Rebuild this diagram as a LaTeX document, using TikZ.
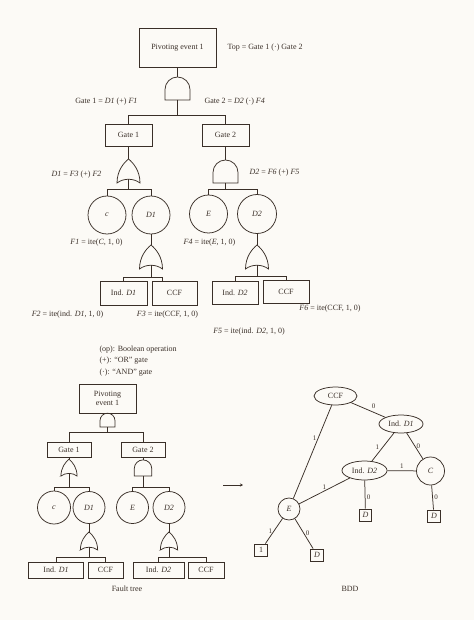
\documentclass[tikz,border=0pt]{standalone}
\usepackage{fontspec}
\setmainfont{Liberation Serif}
\usetikzlibrary{arrows.meta,shapes.geometric}
\definecolor{ink}{RGB}{58,47,40}
\definecolor{paper}{RGB}{252,250,246}

\tikzset{
  wire/.style={draw=ink, line width=0.75pt},
  andgate/.pic={
    \draw[wire] (-12.5pt,0pt) -- (-12.5pt,10.5pt) arc[start angle=180, end angle=0, radius=12.5pt] -- (12.5pt,0pt) -- cycle;
    \coordinate (-in) at (0pt,0pt);
    \coordinate (-out) at (0pt,23pt);
  },
  orgate/.pic={
    \draw[wire] (-11.5pt,0pt) .. controls (-11.5pt,12pt) and (-5pt,20pt) .. (0pt,24pt)
      .. controls (5pt,20pt) and (11.5pt,12pt) .. (11.5pt,0pt)
      .. controls (5pt,5pt) and (-5pt,5pt) .. cycle;
    \coordinate (-in) at (0pt,3.75pt);
    \coordinate (-out) at (0pt,24pt);
  },
}

\begin{document}
\begin{tikzpicture}[x=1pt, y=-1pt,
    every node/.style={text=ink, font=\fontsize{8}{9.5}\selectfont},
    box/.style={draw=ink, line width=0.75pt, rectangle, inner sep=0pt},
    event/.style={draw=ink, line width=0.75pt, circle, inner sep=0pt},
    bddnode/.style={draw=ink, line width=0.75pt, ellipse, inner sep=0pt, minimum width=44pt, minimum height=18pt},
    leaf/.style={draw=ink, line width=0.75pt, rectangle, inner sep=0pt, minimum width=12.5pt, minimum height=12pt},
    branch/.style={font=\fontsize{7}{8}\selectfont, inner sep=1.5pt}]

    \fill[paper] (0,0) rectangle (474,620);

    % Upper fault tree
    \node[box, minimum width=77pt, minimum height=39pt] (top) at (177.5,47.5) {Pivoting event 1};
    \node[anchor=west] (topeq) at (224,48) {Top = Gate 1 (·) Gate 2};
    \pic (g0) at (177.5,100) {andgate};
    \node[anchor=east] (eqg1) at (141,102) {Gate 1 = \textit{D1} (+) \textit{F1}};
    \node[anchor=west] (eqg2) at (201,102) {Gate 2 = \textit{D2} (·) \textit{F4}};
    \node[box, minimum width=47pt, minimum height=22pt] (gate1) at (128.5,135) {Gate 1};
    \node[box, minimum width=47pt, minimum height=22pt] (gate2) at (225.5,135) {Gate 2};
    \draw[wire] (top) -- (g0-out);
    \draw[wire] (g0-in) -- ++(0,15) -| (gate1.north);
    \draw[wire] (g0-in) -- ++(0,15) -| (gate2.north);

    % Gate 1 branch
    \pic (g1) at (128.5,183) {orgate};
    \node[anchor=east] (eqd1) at (105,175) {\textit{D1} = \textit{F3} (+) \textit{F2}};
    \node[event, minimum size=38pt] (c1) at (107,215) {\textit{c}};
    \node[event, minimum size=38pt] (d1) at (151,215) {\textit{D1}};
    \node (f1) at (96.5,243) {\textit{F1} = ite(\textit{C}, 1, 0)};
    \draw[wire] (gate1) -- (g1-out);
    \draw[wire] (g1-in) -- ++(0,10) -| (c1.north);
    \draw[wire] (g1-in) -- ++(0,10) -| (d1.north);
    \pic (g2) at (151,269) {orgate};
    \node[box, minimum width=47pt, minimum height=24pt] (ind1) at (123.5,293) {Ind. \textit{D1}};
    \node[box, minimum width=45pt, minimum height=24pt] (ccf1) at (174.5,293) {CCF};
    \node (f2) at (67.5,315) {\textit{F2} = ite(ind. \textit{D1}, 1, 0)};
    \node (f3) at (167.5,315) {\textit{F3} = ite(CCF, 1, 0)};
    \draw[wire] (d1) -- (g2-out);
    \draw[wire] (g2-in) -- ++(0,12) -| (ind1.north);
    \draw[wire] (g2-in) -- ++(0,12) -| ([xshift=-12pt]ccf1.north);

    % Gate 2 branch
    \pic (g3) at (225.5,183) {andgate};
    \node[anchor=west] (eqd2) at (246,173) {\textit{D2} = \textit{F6} (+) \textit{F5}};
    \node[event, minimum size=38pt] (e1) at (208.5,214) {\textit{E}};
    \node[event, minimum size=39pt] (d2) at (257,214) {\textit{D2}};
    \node (f4) at (209.5,243) {\textit{F4} = ite(\textit{E}, 1, 0)};
    \draw[wire] (gate2) -- (g3-out);
    \draw[wire] (g3-in) -- ++(0,6) -| (e1.north);
    \draw[wire] (g3-in) -- ++(0,6) -| (d2.north);
    \pic (g4) at (257,269) {orgate};
    \node[box, minimum width=46pt, minimum height=23pt] (ind2) at (235,293) {Ind. \textit{D2}};
    \node[box, minimum width=46pt, minimum height=23pt] (ccf2) at (286,291.5) {CCF};
    \node (f6) at (330,309) {\textit{F6} = ite(CCF, 1, 0)};
    \node (f5) at (249,332) {\textit{F5} = ite(ind. \textit{D2}, 1, 0)};
    \draw[wire] (d2) -- (g4-out);
    \draw[wire] (g4-in) -- ++(0,11) -| (ind2.north);
    \draw[wire] (g4-in) -- ++(0,11) -| (ccf2.north);

    % Legend
    \node[anchor=north west, align=left, font=\fontsize{8}{11.5}\selectfont] (legend) at (96,342)
      {(op): Boolean operation\\(+): ``OR'' gate\\(·): ``AND'' gate};

    % Lower fault tree
    \node[box, minimum width=57pt, minimum height=29pt, align=center] (top2) at (107.5,398.5) {Pivoting\\event 1};
    \pic[scale=0.6] (g5) at (107.5,427) {andgate};
    \node[box, minimum width=44pt, minimum height=15pt] (gate1b) at (69,449.5) {Gate 1};
    \node[box, minimum width=44pt, minimum height=15pt] (gate2b) at (143,449.5) {Gate 2};
    \draw[wire] (top2) -- (g5-out);
    \draw[wire] (g5-in) -- ++(0,5) -| (gate1b.north);
    \draw[wire] (g5-in) -- ++(0,5) -| (gate2b.north);

    \pic[scale=0.7] (g6) at (69,476) {orgate};
    \node[event, minimum size=33pt] (c2) at (54,507.5) {\textit{c}};
    \node[event, minimum size=32pt] (d1b) at (89,507.5) {\textit{D1}};
    \draw[wire] (gate1b) -- (g6-out);
    \draw[wire] (g6-in) -- ++(0,13.5) -| (c2.north);
    \draw[wire] (g6-in) -- ++(0,13.5) -| (d1b.north);
    \pic[scale=0.75] (g7) at (89,550) {orgate};
    \node[box, minimum width=55pt, minimum height=16pt] (ind1b) at (56,570) {Ind. \textit{D1}};
    \node[box, minimum width=35pt, minimum height=16pt] (ccf1b) at (105.5,570) {CCF};
    \draw[wire] (d1b) -- (g7-out);
    \draw[wire] (g7-in) -- ++(0,10) -| (ind1b.north);
    \draw[wire] (g7-in) -- ++(0,10) -| (ccf1b.north);

    \pic[scale=0.7] (g8) at (143,476) {andgate};
    \node[event, minimum size=32pt] (e2) at (132.5,507.5) {\textit{E}};
    \node[event, minimum size=32pt] (d2b) at (169,507.5) {\textit{D2}};
    \draw[wire] (gate2b) -- (g8-out);
    \draw[wire] (g8-in) -- ++(0,11) -| (e2.north);
    \draw[wire] (g8-in) -- ++(0,11) -| (d2b.north);
    \pic[scale=0.75] (g9) at (169,550) {orgate};
    \node[box, minimum width=51pt, minimum height=16pt] (ind2b) at (158.5,570) {Ind. \textit{D2}};
    \node[box, minimum width=36pt, minimum height=16pt] (ccf2b) at (206,570) {CCF};
    \draw[wire] (d2b) -- (g9-out);
    \draw[wire] (g9-in) -- ++(0,10) -| (ind2b.north);
    \draw[wire] (g9-in) -- ++(0,10) -| (ccf2b.north);
    \node (ftlabel) at (127,589) {Fault tree};

    % Arrow to the BDD
    \coordinate (arrA) at (223,485);
    \coordinate (arrB) at (243,485);
    \draw[wire, line width=0.5pt, -{Stealth[length=3pt, width=3pt]}] (arrA) -- (arrB);

    % BDD
    \node[bddnode, minimum width=43pt] (ccf) at (335.5,396) {CCF};
    \node[bddnode] (indD1) at (401,424) {Ind. \textit{D1}};
    \node[bddnode, minimum width=45pt, minimum height=19pt] (indD2) at (364.5,470.5) {Ind. \textit{D2}};
    \node[event, minimum size=28pt] (cC) at (430.5,471) {\textit{C}};
    \node[event, minimum size=22pt] (eE) at (289,509) {\textit{E}};
    \node[leaf] (dA) at (365.5,515) {\textit{D}};
    \node[leaf] (dB) at (434,516) {\textit{D}};
    \node[leaf] (one) at (261,550) {1};
    \node[leaf] (dC) at (317,555) {\textit{D}};
    \node (bddlabel) at (350,589) {BDD};

    \draw[wire] (ccf) -- node[branch, pos=0.55, above right] {0} (indD1);
    \draw[wire] (ccf) -- node[branch, pos=0.35, left] {1} (eE);
    \draw[wire] (indD1) -- node[branch, midway, left=2pt] {1} (indD2);
    \draw[wire] (indD1) -- node[branch, midway, right] {0} (cC);
    \draw[wire] (indD2) -- node[branch, midway, above] {1} (cC);
    \draw[wire] (indD2) -- node[branch, midway, above] {1} (eE);
    \draw[wire] (indD2) -- node[branch, pos=0.6, right] {0} (dA);
    \draw[wire] (cC) -- node[branch, midway, right] {0} (dB);
    \draw[wire] (eE) -- node[branch, midway, left] {1} (one);
    \draw[wire] (eE) -- node[branch, midway, right] {0} (dC);
\end{tikzpicture}
\end{document}
